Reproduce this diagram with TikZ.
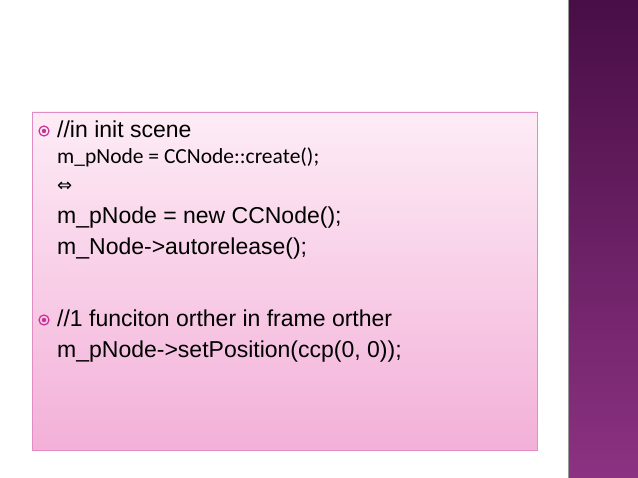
\documentclass[tikz,border=0pt]{standalone}
\usepackage{fontspec}
\setmainfont{Liberation Sans}
\newfontfamily\calibfont{Carlito}
\newfontfamily\djfont{DejaVu Sans}
\begin{document}
\begin{tikzpicture}[x=1pt,y=-1pt,
  big/.style={anchor=base west,inner sep=0pt,font=\fontsize{23}{26}\selectfont},
  small/.style={anchor=base west,inner sep=0pt,font=\calibfont\fontsize{21.5}{24}\selectfont},
  bulc/.style={circle,draw={rgb,255:red,200;green,50;blue,150},line width=1.2pt,minimum size=10pt,inner sep=0pt},
  buld/.style={circle,fill={rgb,255:red,200;green,50;blue,150},minimum size=4.5pt,inner sep=0pt}]
\useasboundingbox (0,0) rectangle (638,478);
\fill[white] (0,0) rectangle (638,478);
\shade[top color={rgb,255:red,72;green,14;blue,70},bottom color={rgb,255:red,140;green,50;blue,130}] (568,0) rectangle (638,478);
\draw[very thin,black!40] (568,0) -- (568,478);
\shade[top color={rgb,255:red,253;green,236;blue,246},bottom color={rgb,255:red,243;green,176;blue,216},draw={rgb,255:red,225;green,140;blue,195}] (32,112) rectangle (537,450);
\node[bulc] (b1) at (44,131) {};
\node[buld] (b1d) at (44,131) {};
\node[big] (t1) at (57,138) {//in init scene};
\node[small] (t2) at (57,164) {m\_pNode = CCNode::create();};
\node[anchor=base west,inner sep=0pt,font=\djfont\fontsize{18}{20}\selectfont] (t3) at (57,192) {⇔};
\node[big] (t4) at (57,224) {m\_pNode = new CCNode();};
\node[big] (t5) at (57,255) {m\_Node->autorelease();};
\node[bulc] (b2) at (44,320) {};
\node[buld] (b2d) at (44,320) {};
\node[big] (t6) at (57,327) {//1 funciton orther in frame orther};
\node[big] (t7) at (57,358) {m\_pNode->setPosition(ccp(0, 0));};
\end{tikzpicture}
\end{document}
